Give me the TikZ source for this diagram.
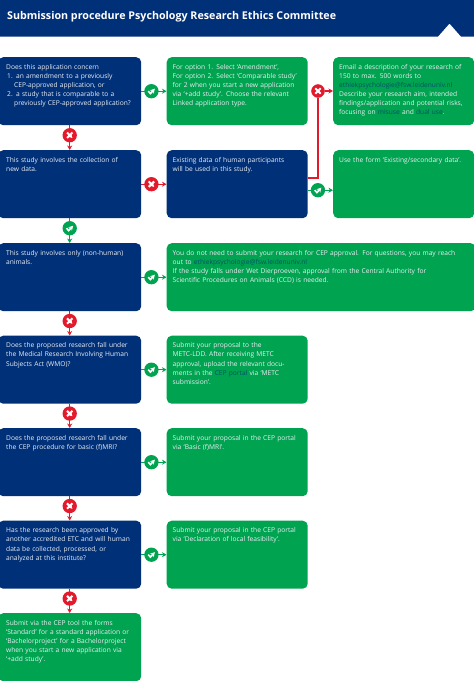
\documentclass[tikz,border=0pt]{standalone}
\usepackage{fontspec}
\setmainfont{Open Sans}
\usetikzlibrary{positioning,arrows.meta}
\definecolor{lublue}{RGB}{0,48,120}
\definecolor{lugreen}{RGB}{0,163,80}
\definecolor{lured}{RGB}{226,26,44}
\definecolor{lulink}{RGB}{0,84,104}
\newcommand{\lnk}[1]{\textcolor{lulink}{#1}}
\tikzset{
	box/.style={rounded corners=5pt, inner ysep=5pt, anchor=north west,
		align=left, font=\fontsize{6.65}{9.15}\selectfont, text=white!92!lublue, text height=7pt, text depth=51pt},
	ask/.style={box, fill=lublue, inner xsep=8pt, text width=127pt},
	answer/.style={box, fill=lugreen, inner xsep=6pt, text width=129pt},
	wide/.style={box, fill=lugreen, inner xsep=6pt, text width=297pt},
	yesline/.style={draw=lugreen, line width=1.3pt, -{Stealth[length=4.5pt,width=5pt]}},
	noline/.style={draw=lured, line width=1.3pt, -{Stealth[length=4.5pt,width=5pt]}},
	yes/.style={circle, fill=lugreen, draw=lugreen, inner sep=0pt, minimum size=13pt, path picture={
		\draw[white, line width=1.7pt] ([shift={(-3.2pt,0pt)}]path picture bounding box.center)
			-- ++(2.2pt,-2.3pt) -- ++(4.4pt,4.8pt);}},
	no/.style={circle, fill=lured, draw=lured, inner sep=0pt, minimum size=13pt, path picture={
		\draw[white, line width=2pt] ([shift={(-2.7pt,-2.7pt)}]path picture bounding box.center) -- ++(5.4pt,5.4pt)
			([shift={(-2.7pt,2.7pt)}]path picture bounding box.center) -- ++(5.4pt,-5.4pt);}}
}
\begin{document}
\begin{tikzpicture}[x=1pt, y=-1pt]
	\useasboundingbox (0,0) rectangle (474,681);
	% header
	\fill[lublue] (0,0) -- (474,0) -- (474,36.5) -- (461,36.5) -- (449.5,23.5) -- (438,36.5) -- (0,36.5) -- cycle;
	\node (title) at (7,16.5) [anchor=west, inner sep=0pt, text=white, font=\fontsize{10.7}{12}\selectfont\bfseries]
		{Submission procedure Psychology Research Ethics Committee};
	% left column
	\node (concern) at (-2,57) [ask] {Does this application concern\\
		\hspace*{1pt}1. an amendment to a previously\\
		\hspace*{8pt}CEP-approved application, or\\
		\hspace*{1pt}2. a study that is comparable to a\\
		\hspace*{8pt}previously CEP-approved application?};
	\node (collect) at (-2,150) [ask] {This study involves the collection of\\new data.};
	\node (animals) at (-2,243) [ask] {This study involves only (non-human)\\animals.};
	\node (wmo) at (-2,335.5) [ask] {Does the proposed research fall under\\the Medical Research Involving Human\\Subjects Act (WMO)?};
	\node (mri) at (-2,428) [ask] {Does the proposed research fall under\\the CEP procedure for basic (f)MRI?};
	\node (etc) at (-2,520.5) [ask] {Has the research been approved by\\another accredited ETC and will human\\data be collected, processed, or\\analyzed at this institute?};
	\node (standard) at (-2,613) [ask, fill=lugreen] {Submit via the CEP tool the forms\\`Standard' for a standard application or\\`Bachelorproject' for a Bachelorproject\\when you start a new application via\\`+add study'.};
	% middle column
	\node (option) at (166.5,57) [answer] {For option 1. Select `Amendment',\\For option 2. Select `Comparable study'\\for 2 when you start a new application\\via `+add study'. Choose the relevant\\Linked application type.};
	\node (existing) at (166.5,150) [answer, fill=lublue] {Existing data of human participants\\will be used in this study.};
	\node (noneed) at (166.5,243) [wide] {You do not need to submit your research for CEP approval. For questions, you may reach\\out to \lnk{ethiekpsychologie@fsw.leidenuniv.nl}\\If the study falls under Wet Dierproeven, approval from the Central Authority for\\Scientific Procedures on Animals (CCD) is needed.};
	\node (metc) at (166.5,335.5) [answer] {Submit your proposal to the\\METC-LDD. After receiving METC\\approval, upload the relevant docu-\\ments in the \lnk{CEP portal} via `METC\\submission'.};
	\node (basic) at (166.5,428) [answer] {Submit your proposal in the CEP portal\\via `Basic (f)MRI'.};
	\node (local) at (166.5,520.5) [answer] {Submit your proposal in the CEP portal\\via `Declaration of local feasibility'.};
	% right column
	\node (email) at (333,57) [answer] {Email a description of your research of\\150 to max. 500 words to\\\lnk{ethiekpsychologie@fsw.leidenuniv.nl}\\Describe your research aim, intended\\findings/application and potential risks,\\focusing on \lnk{misuse} and \lnk{dual use}.};
	\node (form) at (333,150) [answer] {Use the form `Existing/secondary data'.};
	% vertical connectors
	\draw[noline] (concern) -- (collect) node[pos=.4, no] (n1) {};
	\draw[yesline] (collect) -- (animals) node[pos=.4, yes] (y1) {};
	\draw[noline] (animals) -- (wmo) node[pos=.4, no] (n2) {};
	\draw[noline] (wmo) -- (mri) node[pos=.4, no] (n3) {};
	\draw[noline] (mri) -- (etc) node[pos=.4, no] (n4) {};
	\draw[noline] (etc) -- (standard) node[pos=.4, no] (n5) {};
	% horizontal connectors
	\draw[yesline] (concern) -- (option) node[pos=.4, yes] (y2) {};
	\draw[noline] (collect) -- (existing) node[pos=.4, no] (n6) {};
	\draw[yesline] (animals.east) -- (noneed.west) node[pos=.4, yes] (y3) {};
	\draw[yesline] (wmo) -- (metc) node[pos=.4, yes] (y4) {};
	\draw[yesline] (mri) -- (basic) node[pos=.4, yes] (y5) {};
	\draw[yesline] (etc) -- (local) node[pos=.4, yes] (y6) {};
	\draw[yesline] ([yshift=-6pt]existing.east) -- ([yshift=-6pt]form.west) node[pos=.4, yes] (y7) {};
	% branch up to the email box
	\node (n7) at (318,91) [no] {};
	\draw[noline, -, line width=1.6pt] ([yshift=6.5pt]existing.east) -| (n7);
	\draw[noline] (n7) -- (email.west |- n7);
\end{tikzpicture}
\end{document}
